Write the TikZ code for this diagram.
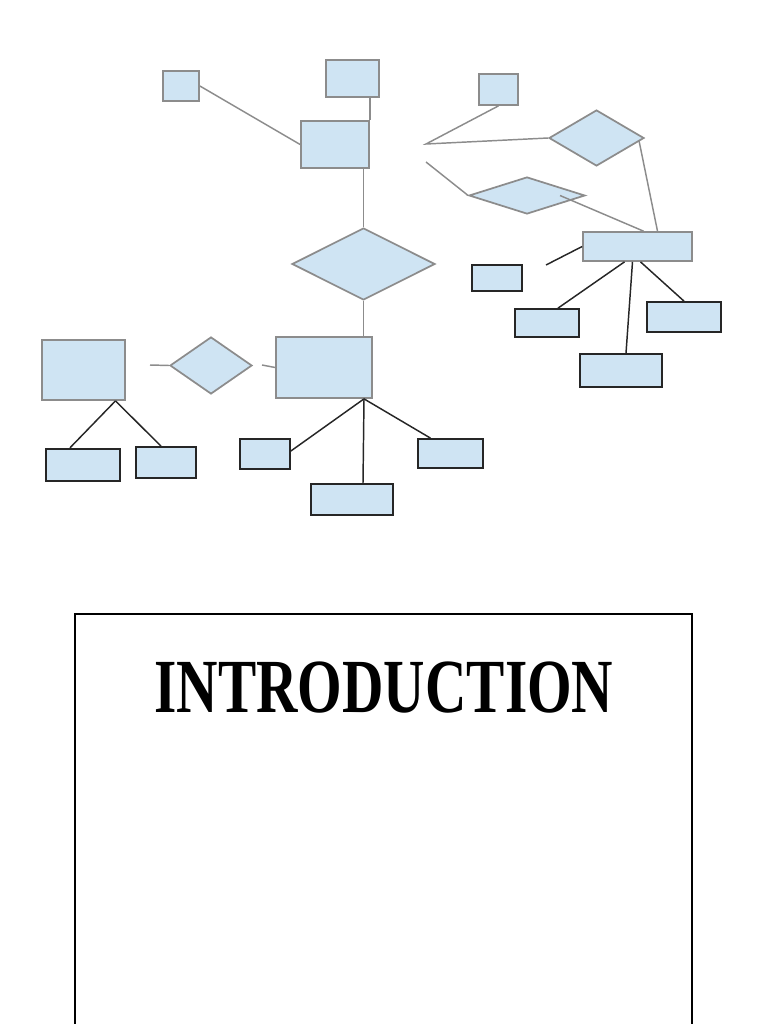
\documentclass[tikz,border=0pt]{standalone}
\usepackage{graphicx}
\usepackage{fontspec}
\newfontfamily\titlefont{Liberation Serif}
\usepackage{tikz}
\usetikzlibrary{shapes.geometric,calc}
\definecolor{boxfill}{RGB}{207,228,243}
\definecolor{boxline}{RGB}{140,140,140}
\tikzset{
  ent/.style={draw=boxline, fill=boxfill, line width=1.3pt, inner sep=0pt},
  leaf/.style={ent, draw=black!85},
  rel/.style={diamond, draw=boxline, fill=boxfill, line width=1.3pt, inner sep=0pt},
  sz/.style 2 args={minimum width=#1*0.75pt, minimum height=#2*0.75pt},
  glink/.style={draw=boxline, line width=1.1pt},
  klink/.style={draw=black!85, line width=1.1pt}
}

\begin{document}
\begin{tikzpicture}[x=0.75pt, y=-0.75pt]
  \useasboundingbox (0,0) rectangle (768,1024);

  % upper cluster
  \node[ent, sz={36}{30}] (A) at (181,86) {};
  \node[ent, sz={53}{37}] (B) at (352.5,78.5) {};
  \node[ent, sz={68}{47}] (C) at (335,144.5) {};
  \node[rel, sz={143}{72}] (D1) at (363.5,264) {};
  \node[ent, sz={39}{31}] (F) at (498.5,89.5) {};
  \node[rel, sz={95}{56}] (D2) at (596.5,138) {};
  \node[rel, sz={116}{37}] (D3) at (527,195.5) {};
  \node[ent, sz={109}{29}] (G) at (637.5,246.5) {};
  \node[leaf, sz={50}{26}] (H) at (497,278) {};
  \node[leaf, sz={64}{28}] (I) at (547,323) {};
  \node[leaf, sz={82}{33}] (J) at (621,370.5) {};
  \node[leaf, sz={74}{30}] (K) at (684,317) {};
  \coordinate (fork) at (426,144);
  \coordinate (stub1) at (426,162);
  \coordinate (stub2) at (546,265);

  \draw[glink] (A.east) -- (C.west);
  \draw[glink] (B.south -| C.north east) -- (C.north east);
  \draw[glink] (D1.north |- C.south) -- (D1.north);
  \draw[glink] (F.south) -- (fork) -- (D2.west);
  \draw[glink] (stub1) -- (D3.west);
  \draw[glink] ($(D2.east)+(-6,2)$) -- ($(G.north)+(20,0)$);
  \draw[glink] ($(D3.center)+(33,0)$) -- ($(G.north)+(6,0)$);
  \draw[klink] (stub2) -- (G.west);
  \draw[klink] ($(G.south)+(-13,0)$) -- ($(I.north)+(11,0)$);
  \draw[klink] ($(G.south)+(-5,0)$) -- ($(J.north)+(5,0)$);
  \draw[klink] ($(G.south)+(3,0)$) -- (K.north);

  % lower cluster
  \node[ent, sz={83}{60}] (L) at (83.5,370) {};
  \node[rel, sz={82}{57}] (D4) at (211,365.5) {};
  \node[ent, sz={96}{61}] (E) at (324,367.5) {};
  \node[leaf, sz={74}{32}, line width=1.8pt] (M) at (83,465) {};
  \node[leaf, sz={60}{31}] (N) at (166,462.5) {};
  \node[leaf, sz={50}{30}] (O) at (265,454) {};
  \node[leaf, sz={82}{31}] (P) at (352,499.5) {};
  \node[leaf, sz={65}{29}] (Q) at (450.5,453.5) {};
  \coordinate (stub3) at (150,365);
  \coordinate (stub4) at (262,365);

  \draw[glink] (D1.south) -- (D1.south |- E.north);
  \draw[glink] (stub3) -- (D4.west);
  \draw[glink] (stub4) -- (E.west);
  \draw[klink] ($(L.south)+(32,0)$) -- ($(M.north)+(-13,0)$);
  \draw[klink] ($(L.south)+(32,0)$) -- ($(N.north)+(-5,0)$);
  \draw[klink] ($(E.south)+(40,0)$) -- ($(O.east)+(0,-3)$);
  \draw[klink] ($(E.south)+(40,0)$) -- ($(P.north)+(11,0)$);
  \draw[klink] ($(E.south)+(40,0)$) -- ($(Q.north)+(-20,0)$);

  % title frame
  \draw[line width=2pt] (75,1024) |- (692,614) -- (692,1024);
  \node (title) at (384,688) {\resizebox{344pt}{38pt}{\titlefont\bfseries INTRODUCTION}};
\end{tikzpicture}
\end{document}
